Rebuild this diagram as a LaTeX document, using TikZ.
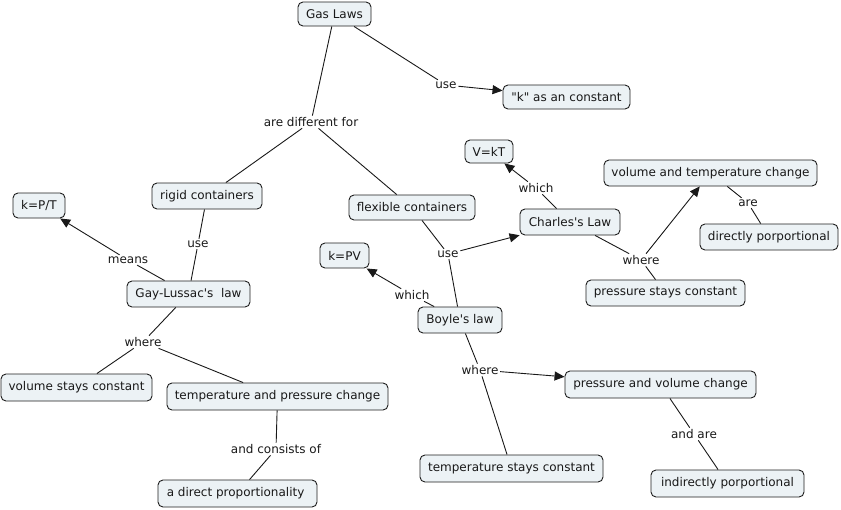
\documentclass[tikz,border=0pt]{standalone}
\usepackage{fontspec}
\setmainfont{DejaVu Sans}[Ligatures=TeXOff]
\usetikzlibrary{arrows.meta}
\definecolor{boxfill}{RGB}{236,242,245}
\definecolor{boxline}{RGB}{30,30,30}
\begin{document}
\begin{tikzpicture}[x=1pt,y=-1pt,
  every node/.style={font=\fontsize{12}{14}\selectfont, text=black!90},
  cbox/.style={draw=boxline, fill=boxfill, rounded corners=5pt, line width=0.9pt, inner sep=1pt, align=center},
  lbl/.style={inner sep=1.5pt, fill=none},
  conn/.style={draw=black!90, line width=0.9pt},
  arr/.style={conn, -{Triangle[length=10pt,width=9pt]}}]
\useasboundingbox (0,0) rectangle (841,509);
% concept boxes
\node[cbox, minimum width=73pt, minimum height=24pt] (gas) at (334.5,14) {Gas Laws};
\node[cbox, minimum width=127pt, minimum height=24pt] (kconst) at (566.5,97) {"k" as an constant};
\node[cbox, minimum width=110pt, minimum height=26pt] (rigid) at (207,196) {rigid containers};
\node[cbox, minimum width=126pt, minimum height=25pt] (flex) at (412,207.5) {flexible containers};
\node[cbox, minimum width=48pt, minimum height=23pt] (vkt) at (489,151.5) {V=kT};
\node[cbox, minimum width=100pt, minimum height=26pt] (charles) at (570,222) {Charles's Law};
\node[cbox, minimum width=213pt, minimum height=26pt] (vtchange) at (710.5,173) {volume and temperature change};
\node[cbox, minimum width=138pt, minimum height=26pt] (directly) at (769,237) {directly porportional};
\node[cbox, minimum width=159pt, minimum height=26pt] (pconst) at (665.5,293) {pressure stays constant};
\node[cbox, minimum width=52pt, minimum height=25pt] (kpt) at (39,205.5) {k=P/T};
\node[cbox, minimum width=123pt, minimum height=26pt] (gay) at (188.5,294) {Gay-Lussac's\ \ law};
\node[cbox, minimum width=49pt, minimum height=25pt] (kpv) at (344.5,255.5) {k=PV};
\node[cbox, minimum width=84pt, minimum height=26pt] (boyle) at (460,320) {Boyle's law};
\node[cbox, minimum width=151pt, minimum height=27pt] (vconst) at (76.5,387.5) {volume stays constant};
\node[cbox, minimum width=221pt, minimum height=27pt] (tpchange) at (277.5,396.5) {temperature and pressure change};
\node[cbox, minimum width=159pt, minimum height=27pt] (directprop) at (237.5,493.5) {a direct proportionality\ };
\node[cbox, minimum width=191pt, minimum height=27pt] (pvchange) at (660.5,384.5) {pressure and volume change};
\node[cbox, minimum width=183pt, minimum height=27pt] (tconst) at (511.5,468.5) {temperature stays constant};
\node[cbox, minimum width=153pt, minimum height=27pt] (indirectly) at (727.5,483.5) {indirectly porportional};
% link labels
\node[lbl] (l1) at (446,85) {use};
\node[lbl] (l2) at (311,122) {are different for};
\node[lbl] (l3) at (198,244) {use};
\node[lbl] (l4) at (128,260) {means};
\node[lbl] (l5) at (448,254) {use};
\node[lbl] (l6) at (536,188) {which};
\node[lbl] (l7) at (412,295) {which};
\node[lbl] (l8) at (641,260) {where};
\node[lbl] (l9) at (748,203) {are};
\node[lbl] (l10) at (143,342) {where};
\node[lbl] (l11) at (276,449) {and consists of};
\node[lbl] (l12) at (480,370) {where};
\node[lbl] (l13) at (694,434) {and are};
% connectors
\draw[conn] (gas) -- (l1);
\draw[arr] (l1) -- (kconst);
\draw[conn] (gas) -- (l2);
\draw[conn] (l2) -- (rigid);
\draw[conn] (l2) -- (flex);
\draw[conn] (rigid) -- (l3);
\draw[conn] (l3) -- (gay);
\draw[conn] (gay) -- (l4);
\draw[arr] (l4) -- (kpt);
\draw[conn] (gay) -- (l10);
\draw[conn] (l10) -- (vconst);
\draw[conn] (l10) -- (tpchange);
\draw[conn] (tpchange) -- (l11);
\draw[conn] (l11) -- (directprop);
\draw[conn] (flex) -- (l5);
\draw[arr] (l5) -- (charles);
\draw[conn] (l5) -- (boyle);
\draw[conn] (charles) -- (l6);
\draw[arr] (l6) -- (vkt);
\draw[conn] (charles) -- (l8);
\draw[arr] (l8) -- (vtchange);
\draw[conn] (l8) -- (pconst);
\draw[conn] (vtchange) -- (l9);
\draw[conn] (l9) -- (directly);
\draw[conn] (boyle) -- (l7);
\draw[arr] (l7) -- (kpv);
\draw[conn] (boyle) -- (l12);
\draw[arr] (l12) -- (pvchange);
\draw[conn] (l12) -- (tconst);
\draw[conn] (pvchange) -- (l13);
\draw[conn] (l13) -- (indirectly);
\end{tikzpicture}
\end{document}
